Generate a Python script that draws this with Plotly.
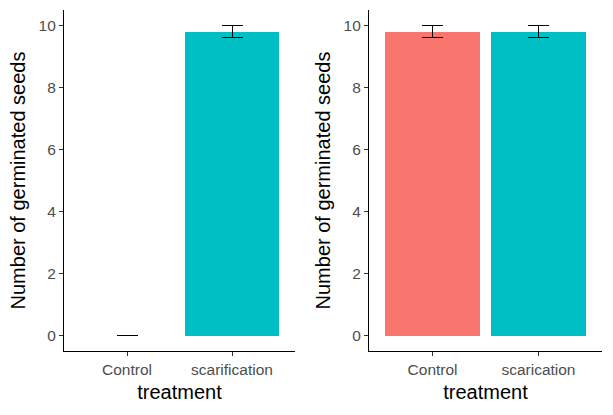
import plotly.graph_objects as go

# Panel 1
treatments_1 = ["Control", "scarification"]
means_1 = [0, 9.8]
errors_1 = [0, 0.2]

# Panel 2
treatments_2 = ["Control", "scarication"]
means_2 = [9.8, 9.8]
errors_2 = [0.2, 0.2]

y_ticks = [0, 2, 4, 6, 8, 10]
fill_colors = ["#F8766D", "#00BFC4"]

W, H = 613, 415
FONT = "Liberation Sans, Arial, sans-serif"

fig = go.Figure()
fig.add_trace(go.Bar(
    x=treatments_1, y=means_1, width=0.9,
    marker=dict(color=fill_colors, line=dict(width=0)),
    error_y=dict(type="data", array=errors_1, visible=True, color="black",
                 thickness=1, width=10.5),
    xaxis="x", yaxis="y", showlegend=False, hoverinfo="x+y"))
fig.add_trace(go.Bar(
    x=treatments_2, y=means_2, width=0.9,
    marker=dict(color=fill_colors, line=dict(width=0)),
    error_y=dict(type="data", array=errors_2, visible=True, color="black",
                 thickness=1, width=10.5),
    xaxis="x2", yaxis="y2", showlegend=False, hoverinfo="x+y"))

ybot = (H - 351) / H
ytop = (H - 10) / H

axis_common = dict(
    automargin=False,
    showline=True, linecolor="black", linewidth=1.2,
    ticks="outside", ticklen=4, tickwidth=1.1, tickcolor="#333333",
    tickfont=dict(family=FONT, size=15.5, color="#4D4D4D"),
    showgrid=False, zeroline=False, fixedrange=True,
)

xcommon = dict(axis_common, type="category",
               title=dict(text="treatment", font=dict(family=FONT, size=20, color="black"), standoff=8),
               range=[-0.6, 1.6])
ycommon = dict(axis_common, range=[-0.5, 10.5], tickvals=y_ticks,
               title=dict(text="Number of germinated seeds", font=dict(family=FONT, size=20, color="black"), standoff=7))

fig.update_layout(
    template="none",
    width=W, height=H,
    margin=dict(l=0, r=0, t=0, b=0),
    paper_bgcolor="white", plot_bgcolor="white",
    bargap=0,
    xaxis=dict(xcommon, domain=[64 / W, 295 / W], anchor="y", categoryarray=treatments_1),
    yaxis=dict(ycommon, domain=[ybot, ytop], anchor="x"),
    xaxis2=dict(xcommon, domain=[369 / W, 602 / W], anchor="y2", categoryarray=treatments_2),
    yaxis2=dict(ycommon, domain=[ybot, ytop], anchor="x2"),
)

fig.write_html("out.html", config={"displayModeBar": False},
               post_script="document.body.style.margin='0';")
